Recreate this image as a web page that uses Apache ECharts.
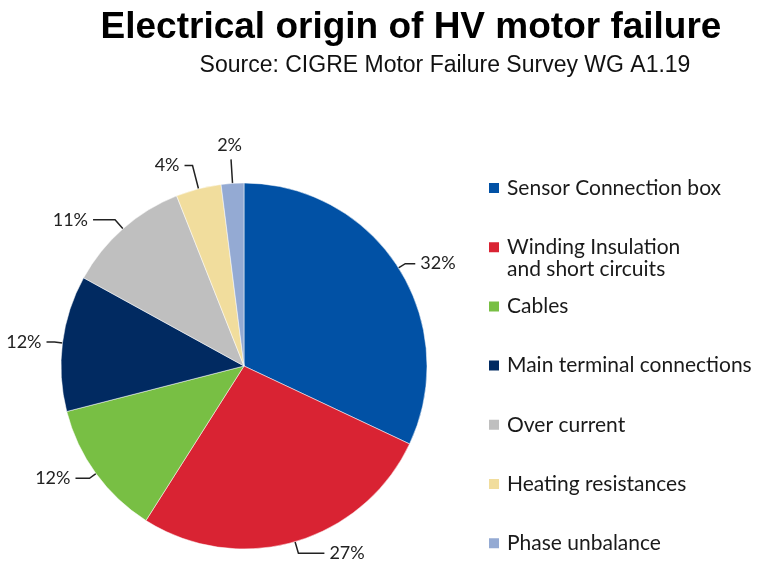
<!DOCTYPE html>
<html>
<head>
<meta charset="utf-8">
<script src="https://cdn.jsdelivr.net/npm/echarts@6/dist/echarts.min.js"></script>
<style>
  html, body { margin: 0; padding: 0; background: #fff; }
  #chart { width: 768px; height: 570px; }
</style>
</head>
<body>
<div id="chart"></div>
<script>
// failure causes, clockwise from 12 o'clock
var causes = ['Sensor Connection box', 'Winding Insulation and short circuits', 'Cables',
    'Main terminal connections', 'Over current', 'Heating resistances', 'Phase unbalance'];
var shares = [32, 27, 12, 12, 11, 4, 2];
var colors = ['#0151a5', '#d92333', '#78bf44', '#012a61', '#bfbfbf', '#f1dd9d', '#94aad3'];
// leader line lengths per slice [radial, horizontal]
var leaderLens = [[8, 10], [12, 26], [8, 14], [8, 8], [12, 22], [24, 8], [24, 0]];

var pieData = [];
for (var i = 0; i < causes.length; i++) {
    pieData.push({
        name: causes[i],
        value: shares[i],
        itemStyle: { color: colors[i] },
        labelLine: { length: leaderLens[i][0], length2: leaderLens[i][1] }
    });
}

//== one legend per item so the two-line entry keeps its box next to the first line
var legends = [];
for (var k = 0; k < causes.length; k++) {
    var twoLines = k === 1;
    var centerY = 188 + k * 59.2;
    legends.push({
        orient: 'vertical',
        left: 487,
        top: twoLines ? centerY - 33 : centerY - 11,
        data: [causes[k]],
        icon: 'rect',
        itemWidth: 12,
        itemHeight: 12,
        itemGap: 0,
        padding: 0,
        selectedMode: false,
        formatter: twoLines ? function () {
            return '\nWinding Insulation\nand short circuits';
        } : '{name}',
        textStyle: {
            fontFamily: 'Lato',
            fontSize: 21,
            lineHeight: 22,
            color: '#1a1a1a',
            padding: [0, 0, 0, 2]
        }
    });
}

var myChart = echarts.init(document.getElementById('chart'));
myChart.setOption({
    backgroundColor: '#fff',
    animation: false,
    title: [{
        text: 'Electrical origin of HV motor failure',
        left: 406,
        top: 4,
        textAlign: 'center',
        textStyle: { fontFamily: 'Liberation Sans', fontWeight: 'bold', fontSize: 37, color: '#000' }
    }, {
        text: 'Source: CIGRE Motor Failure Survey WG A1.19',
        left: 440,
        top: 49,
        textAlign: 'center',
        textStyle: { fontFamily: 'Liberation Sans', fontWeight: 'normal', fontSize: 23, color: '#111' }
    }],
    legend: legends,
    series: [{
        type: 'pie',
        center: [244, 366],
        radius: 183,
        startAngle: 90,
        clockwise: true,
        avoidLabelOverlap: false,
        itemStyle: { borderColor: '#fff', borderWidth: 0.5 },
        label: {
            show: true,
            position: 'outside',
            formatter: '{c}%',
            fontFamily: 'Lato',
            fontSize: 18,
            color: '#222'
        },
        labelLine: {
            show: true,
            lineStyle: { color: '#222', width: 1.5 }
        },
        // the smallest slice has its value sitting above the leader line
        labelLayout: function (params) {
            if (params.dataIndex === 6) {
                return { dx: 16, dy: -14 };
            }
        },
        emphasis: { disabled: true },
        data: pieData
    }]
});
</script>
</body>
</html>
